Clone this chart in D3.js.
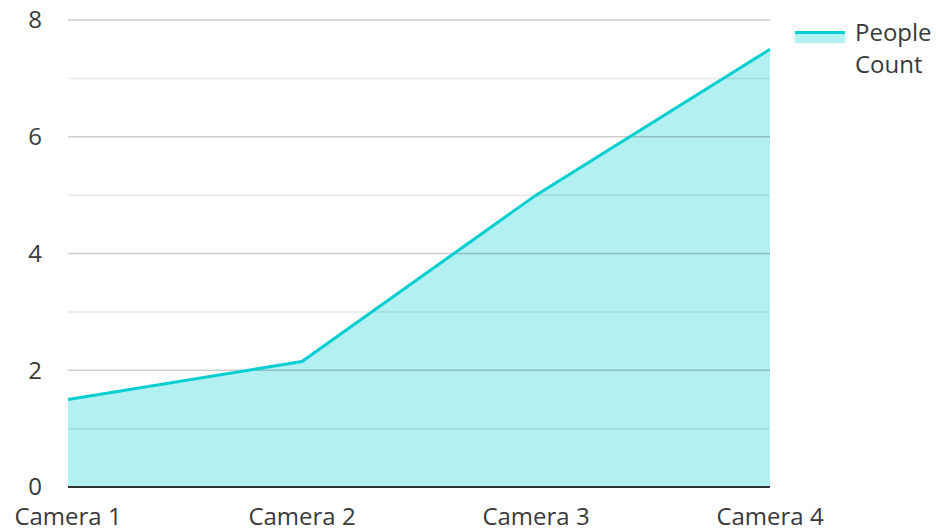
<!DOCTYPE html>
<html>
<head>
<meta charset="utf-8">
<script src="https://cdn.jsdelivr.net/npm/d3@7"></script>
<style>
  body { margin: 0; background: #fff; }
  text { font-family: "Open Sans", sans-serif; fill: #3a3a3a; }
</style>
</head>
<body>
<div id="chart"></div>
<script>
// data
var cameras = ['Camera 1', 'Camera 2', 'Camera 3', 'Camera 4'];
var peopleCount = [1.5, 2.15, 5, 7.5];
var yTicks = [0, 2, 4, 6, 8];
var yMinorTicks = [1, 3, 5, 7];
var seriesName = ['People', 'Count'];

var W = 936, H = 528;
var margin = {top: 20, right: 166, bottom: 41, left: 68},
  width = W - margin.left - margin.right,
  height = H - margin.top - margin.bottom;

var color = '#00ced1';

var svg = d3.select('#chart')
  .append('svg')
  .attr('width', W)
  .attr('height', H);

var g = svg.append('g')
  .attr('transform', 'translate(' + margin.left + ',' + margin.top + ')');

var x = d3.scalePoint().domain(cameras).range([0, width]).padding(0);
var y = d3.scaleLinear().domain([0, 8]).range([height, 0]);

var data = cameras.map(function (c, i) { return {cam: c, v: peopleCount[i]}; });

// area + line
g.append('path')
  .datum(data)
  .attr('fill', color)
  .attr('fill-opacity', 0.3)
  .attr('d', d3.area()
    .x(function (d) { return x(d.cam); })
    .y0(y(0))
    .y1(function (d) { return y(d.v); }));

// grid on top of the area
g.append('g').selectAll('line')
  .data(yMinorTicks)
  .enter().append('line')
  .attr('x1', 0).attr('x2', width)
  .attr('y1', function (d) { return y(d); })
  .attr('y2', function (d) { return y(d); })
  .attr('stroke', 'rgba(0,0,0,0.09)')
  .attr('stroke-width', 1.5);

g.append('g').selectAll('line')
  .data(yTicks.filter(function (d) { return d > 0; }))
  .enter().append('line')
  .attr('x1', 0).attr('x2', width)
  .attr('y1', function (d) { return y(d); })
  .attr('y2', function (d) { return y(d); })
  .attr('stroke', 'rgba(0,0,0,0.2)')
  .attr('stroke-width', 1.5);

g.append('path')
  .datum(data)
  .attr('fill', 'none')
  .attr('stroke', color)
  .attr('stroke-width', 3)
  .attr('d', d3.line()
    .x(function (d) { return x(d.cam); })
    .y(function (d) { return y(d.v); }));

// baseline
g.append('line')
  .attr('x1', 0).attr('x2', width)
  .attr('y1', height).attr('y2', height)
  .attr('stroke', '#333')
  .attr('stroke-width', 2);

// y labels
g.append('g').selectAll('text')
  .data(yTicks)
  .enter().append('text')
  .attr('x', -26)
  .attr('y', function (d) { return y(d); })
  .attr('dy', '0.35em')
  .attr('text-anchor', 'end')
  .style('font-size', '24px')
  .text(function (d) { return d; });

// x labels
g.append('g').selectAll('text')
  .data(cameras)
  .enter().append('text')
  .attr('x', function (d) { return x(d); })
  .attr('y', height + 38)
  .attr('text-anchor', 'middle')
  .style('font-size', '24px')
  .text(function (d) { return d; });

// legend
var lg = svg.append('g').attr('transform', 'translate(795,31)');
lg.append('rect')
  .attr('x', 0).attr('y', 0).attr('width', 50).attr('height', 12)
  .attr('fill', color).attr('fill-opacity', 0.3);
lg.append('line')
  .attr('x1', 0).attr('x2', 50).attr('y1', 1.5).attr('y2', 1.5)
  .attr('stroke', color).attr('stroke-width', 3);
lg.selectAll('text')
  .data(seriesName)
  .enter().append('text')
  .attr('x', 60)
  .attr('y', function (d, i) { return 10 + i * 32; })
  .style('font-size', '24px')
  .text(function (d) { return d; });
</script>
</body>
</html>
